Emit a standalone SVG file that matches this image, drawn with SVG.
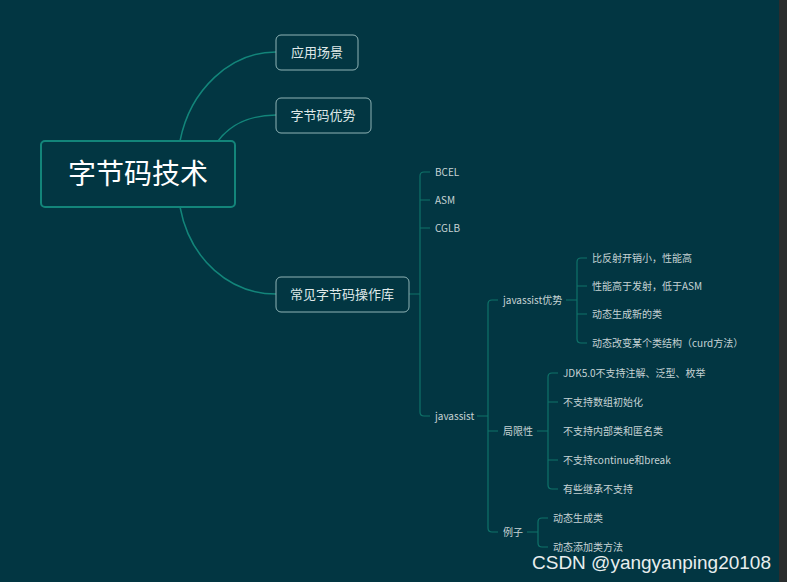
<svg xmlns="http://www.w3.org/2000/svg" width="787" height="582" viewBox="0 0 787 582">
<style>
.c{fill:none;stroke:#13857a;stroke-width:1.5}
.t{fill:none;stroke:#0f7269;stroke-width:1.2}
.b{fill:#023642;stroke:#8fb3b5;stroke-width:1}
.l{font-family:"Noto Sans CJK SC","Noto Sans",sans-serif;font-size:13px;fill:#dfe8e8}
.s{font-family:"Noto Sans CJK SC","Noto Sans",sans-serif;font-size:10px;fill:#c6d3d4}
</style>
<rect width="787" height="582" fill="#023642"/>
<rect x="779" y="0" width="8" height="582" fill="#2a2d2e"/>
<g id="connectors">
<path class="c" d="M180 141 C190 90 230 52 276 52"/>
<path class="c" d="M218 141 C230 125 250 115 276 115"/>
<path class="c" d="M180 207 C190 260 230 294 276 294"/>
<path class="t" d="M409 294 H420 M430 172 H424 Q420 172 420 176 V412 Q420 416 424 416 H430 M420 200 H430 M420 228 H430"/>
<path class="t" d="M477 416 H488 M498 300 H492 Q488 300 488 304 V528 Q488 532 492 532 H498 M488 431 H498"/>
<path class="t" d="M566 300 H577 M587 258 H581 Q577 258 577 262 V339 Q577 343 581 343 H587 M577 286 H587 M577 314 H587"/>
<path class="t" d="M537 431 H548 M558 373 H552 Q548 373 548 377 V485 Q548 489 552 489 H558 M548 402 H558 M548 460 H558"/>
<path class="t" d="M527 532 H538 M548 518 H542 Q538 518 538 522 V543 Q538 547 542 547 H548"/>
</g>
<g id="root"><rect x="41" y="141" width="194" height="66" rx="4" fill="#023642" stroke="#13857a" stroke-width="2"/><text x="138" y="184" text-anchor="middle" font-family="'Noto Sans CJK SC',sans-serif" font-size="28" fill="#ffffff">字节码技术</text></g>
<g id="n1"><rect class="b" x="276" y="35" width="82" height="35" rx="5"/><text class="l" x="317" y="57" text-anchor="middle">应用场景</text></g>
<g id="n2"><rect class="b" x="276" y="98" width="95" height="35" rx="5"/><text class="l" x="323" y="120" text-anchor="middle">字节码优势</text></g>
<g id="n3"><rect class="b" x="276" y="277" width="133" height="35" rx="5"/><text class="l" x="342" y="299" text-anchor="middle">常见字节码操作库</text></g>
<g id="leaves">
<text class="s" x="435" y="176">BCEL</text>
<text class="s" x="435" y="204">ASM</text>
<text class="s" x="435" y="232">CGLB</text>
<text class="s" x="435" y="420">javassist</text>
<text class="s" x="503" y="304">javassist优势</text>
<text class="s" x="503" y="435">局限性</text>
<text class="s" x="503" y="536">例子</text>
<text class="s" x="592" y="262">比反射开销小，性能高</text>
<text class="s" x="592" y="290">性能高于发射，低于ASM</text>
<text class="s" x="592" y="318">动态生成新的类</text>
<text class="s" x="592" y="347">动态改变某个类结构（curd方法）</text>
<text class="s" x="563" y="377">JDK5.0不支持注解、泛型、枚举</text>
<text class="s" x="563" y="406">不支持数组初始化</text>
<text class="s" x="563" y="435">不支持内部类和匿名类</text>
<text class="s" x="563" y="464">不支持continue和break</text>
<text class="s" x="563" y="493">有些继承不支持</text>
<text class="s" x="553" y="522">动态生成类</text>
<text class="s" x="553" y="551">动态添加类方法</text>
</g>
<text x="532" y="569" font-family="'Liberation Sans',sans-serif" font-size="19" fill="#e8eeee">CSDN @yangyanping20108</text>
</svg>
